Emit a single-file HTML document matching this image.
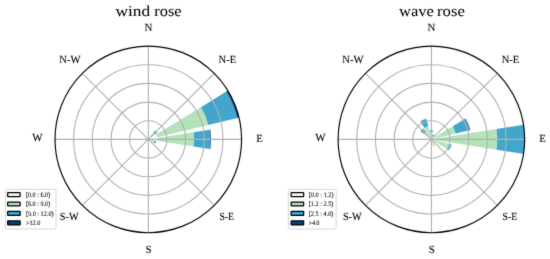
<!DOCTYPE html>
<html><head><meta charset="utf-8"><style>
html,body{margin:0;padding:0;background:#fff;}
svg{display:block;}
text{font-family:"Liberation Serif",serif;fill:#000;text-rendering:geometricPrecision;}
.title{font-size:15.2px;stroke:#000;stroke-width:0.04px;}
.lab{font-size:10.9px;stroke:#000;stroke-width:0.1px;}
.leg{font-size:6.7px;stroke:#000;stroke-width:0.08px;}
</style></head><body>
<svg width="550" height="259" viewBox="0 0 550 259">
<defs><filter id="bl" x="0" y="0" width="550" height="259" filterUnits="userSpaceOnUse" color-interpolation-filters="sRGB"><feConvolveMatrix order="3" kernelMatrix="0.0183 0.1353 0.0183 0.1353 1.0000 0.1353 0.0183 0.1353 0.0183" edgeMode="duplicate"/></filter></defs>
<g filter="url(#bl)">
<rect width="550" height="259" fill="#fff"/>
<path d="M157.34,137.23A9.30,9.30 0 0 0 156.23,134.54L148.30,139.40Z" fill="#f7fcf0"/>
<path d="M208.30,125.00A61.70,61.70 0 0 0 200.91,107.16L156.23,134.54A9.30,9.30 0 0 1 157.34,137.23Z" fill="#b4e2ba"/>
<path d="M237.27,118.04A91.50,91.50 0 0 0 226.32,91.59L200.91,107.16A61.70,61.70 0 0 1 208.30,125.00Z" fill="#42a6cc"/>
<path d="M239.02,117.62A93.30,93.30 0 0 0 227.85,90.65L226.32,91.59A91.50,91.50 0 0 1 237.27,118.04Z" fill="#084081"/>
<path d="M157.19,140.81A9.00,9.00 0 0 0 157.19,137.99L148.30,139.40Z" fill="#f7fcf0"/>
<path d="M193.63,146.58A45.90,45.90 0 0 0 193.63,132.22L157.19,137.99A9.00,9.00 0 0 1 157.19,140.81Z" fill="#b4e2ba"/>
<path d="M209.64,149.11A62.10,62.10 0 0 0 209.64,129.69L193.63,132.22A45.90,45.90 0 0 1 193.63,146.58Z" fill="#42a6cc"/>
<path d="M210.33,149.22A62.80,62.80 0 0 0 210.33,129.58L209.64,129.69A62.10,62.10 0 0 1 209.64,149.11Z" fill="#084081"/>
<path d="M152.35,136.46A5.00,5.00 0 0 0 151.24,135.35L148.30,139.40Z" fill="#f7fcf0"/>
<path d="M155.58,134.11A9.00,9.00 0 0 0 153.59,132.12L151.24,135.35A5.00,5.00 0 0 1 152.35,136.46Z" fill="#b4e2ba"/>
<path d="M157.20,132.93A11.00,11.00 0 0 0 154.77,130.50L153.59,132.12A9.00,9.00 0 0 1 155.58,134.11Z" fill="#42a6cc"/>
<path d="M150.86,140.97A3.00,3.00 0 0 0 151.22,140.10L148.30,139.40Z" fill="#f7fcf0"/>
<path d="M153.42,142.53A6.00,6.00 0 0 0 154.13,140.80L151.22,140.10A3.00,3.00 0 0 1 150.86,140.97Z" fill="#b4e2ba"/>
<path d="M155.12,143.58A8.00,8.00 0 0 0 156.08,141.27L154.13,140.80A6.00,6.00 0 0 1 153.42,142.53Z" fill="#42a6cc"/>
<g fill="none" stroke="#b0b0b0" stroke-width="1.1"><circle cx="148.3" cy="139.4" r="18.66"/><circle cx="148.3" cy="139.4" r="37.32"/><circle cx="148.3" cy="139.4" r="55.98"/><circle cx="148.3" cy="139.4" r="74.64"/><line x1="241.60" y1="139.40" x2="55.00" y2="139.40"/><line x1="214.27" y1="73.43" x2="82.33" y2="205.37"/><line x1="148.30" y1="46.10" x2="148.30" y2="232.70"/><line x1="82.33" y1="73.43" x2="214.27" y2="205.37"/></g>
<circle cx="148.3" cy="139.4" r="93.3" fill="none" stroke="#000" stroke-width="1.15"/>
<path d="M435.35,140.03A4.00,4.00 0 0 0 435.35,138.77L431.40,139.40Z" fill="#f7fcf0"/>
<path d="M496.39,149.69A65.80,65.80 0 0 0 496.39,129.11L435.35,138.77A4.00,4.00 0 0 1 435.35,140.03Z" fill="#b4e2ba"/>
<path d="M523.55,154.00A93.30,93.30 0 0 0 523.55,124.80L496.39,129.11A65.80,65.80 0 0 1 496.39,149.69Z" fill="#42a6cc"/>
<path d="M435.29,138.47A4.00,4.00 0 0 0 434.81,137.31L431.40,139.40Z" fill="#f7fcf0"/>
<path d="M455.71,133.56A25.00,25.00 0 0 0 452.72,126.34L434.81,137.31A4.00,4.00 0 0 1 435.29,138.47Z" fill="#b4e2ba"/>
<path d="M469.71,130.20A39.40,39.40 0 0 0 464.99,118.81L452.72,126.34A25.00,25.00 0 0 1 455.71,133.56Z" fill="#42a6cc"/>
<path d="M470.29,130.06A40.00,40.00 0 0 0 465.51,118.50L464.99,118.81A39.40,39.40 0 0 1 469.71,130.20Z" fill="#084081"/>
<path d="M430.70,136.48A3.00,3.00 0 0 0 429.83,136.84L431.40,139.40Z" fill="#f7fcf0"/>
<path d="M428.23,126.18A13.60,13.60 0 0 0 424.29,127.80L429.83,136.84A3.00,3.00 0 0 1 430.70,136.48Z" fill="#b4e2ba"/>
<path d="M426.45,118.79A21.20,21.20 0 0 0 420.32,121.32L424.29,127.80A13.60,13.60 0 0 1 428.23,126.18Z" fill="#42a6cc"/>
<path d="M429.64,136.97A3.00,3.00 0 0 0 428.97,137.64L431.40,139.40Z" fill="#f7fcf0"/>
<path d="M426.11,132.12A9.00,9.00 0 0 0 424.12,134.11L428.97,137.64A3.00,3.00 0 0 1 429.64,136.97Z" fill="#b4e2ba"/>
<path d="M423.46,128.48A13.50,13.50 0 0 0 420.48,131.46L424.12,134.11A9.00,9.00 0 0 1 426.11,132.12Z" fill="#42a6cc"/>
<path d="M431.87,136.44A3.00,3.00 0 0 0 430.93,136.44L431.40,139.40Z" fill="#f7fcf0"/>
<path d="M432.50,132.49A7.00,7.00 0 0 0 430.30,132.49L430.93,136.44A3.00,3.00 0 0 1 431.87,136.44Z" fill="#b4e2ba"/>
<path d="M432.90,129.92A9.60,9.60 0 0 0 429.90,129.92L430.30,132.49A7.00,7.00 0 0 1 432.50,132.49Z" fill="#42a6cc"/>
<path d="M432.44,137.69A2.00,2.00 0 0 0 431.87,137.46L431.40,139.40Z" fill="#f7fcf0"/>
<path d="M433.23,136.42A3.50,3.50 0 0 0 432.22,136.00L431.87,137.46A2.00,2.00 0 0 1 432.44,137.69Z" fill="#b4e2ba"/>
<path d="M434.17,134.88A5.30,5.30 0 0 0 432.64,134.25L432.22,136.00A3.50,3.50 0 0 1 433.23,136.42Z" fill="#42a6cc"/>
<path d="M431.87,141.34A2.00,2.00 0 0 0 432.44,141.11L431.40,139.40Z" fill="#f7fcf0"/>
<path d="M433.08,146.40A7.20,7.20 0 0 0 435.16,145.54L432.44,141.11A2.00,2.00 0 0 1 431.87,141.34Z" fill="#b4e2ba"/>
<path d="M433.96,140.97A3.00,3.00 0 0 0 434.32,140.10L431.40,139.40Z" fill="#f7fcf0"/>
<path d="M447.77,149.43A19.20,19.20 0 0 0 450.07,143.88L434.32,140.10A3.00,3.00 0 0 1 433.96,140.97Z" fill="#b4e2ba"/>
<path d="M449.13,150.27A20.80,20.80 0 0 0 451.63,144.26L450.07,143.88A19.20,19.20 0 0 1 447.77,149.43Z" fill="#42a6cc"/>
<g fill="none" stroke="#b0b0b0" stroke-width="1.1"><circle cx="431.4" cy="139.4" r="18.66"/><circle cx="431.4" cy="139.4" r="37.32"/><circle cx="431.4" cy="139.4" r="55.98"/><circle cx="431.4" cy="139.4" r="74.64"/><line x1="524.70" y1="139.40" x2="338.10" y2="139.40"/><line x1="497.37" y1="73.43" x2="365.43" y2="205.37"/><line x1="431.40" y1="46.10" x2="431.40" y2="232.70"/><line x1="365.43" y1="73.43" x2="497.37" y2="205.37"/></g>
<circle cx="431.4" cy="139.4" r="93.3" fill="none" stroke="#000" stroke-width="1.15"/>
<text id="LN" x="148.40" y="31.10" text-anchor="middle" class="lab">N</text>
<text id="LN-E" x="227.35" y="63.35" text-anchor="middle" class="lab" textLength="17.6" lengthAdjust="spacingAndGlyphs">N-E</text>
<text id="LE" x="259.55" y="141.90" text-anchor="middle" class="lab">E</text>
<text id="LS-E" x="226.70" y="220.20" text-anchor="middle" class="lab" textLength="14.5" lengthAdjust="spacingAndGlyphs">S-E</text>
<text id="LS" x="148.65" y="252.85" text-anchor="middle" class="lab">S</text>
<text id="LS-W" x="69.20" y="220.15" text-anchor="middle" class="lab" textLength="18.7" lengthAdjust="spacingAndGlyphs">S-W</text>
<text id="LW" x="37.35" y="141.30" text-anchor="middle" class="lab">W</text>
<text id="LN-W" x="69.80" y="63.25" text-anchor="middle" class="lab" textLength="21.3" lengthAdjust="spacingAndGlyphs">N-W</text>
<text id="RN" x="431.50" y="31.10" text-anchor="middle" class="lab">N</text>
<text id="RN-E" x="510.45" y="63.35" text-anchor="middle" class="lab" textLength="17.6" lengthAdjust="spacingAndGlyphs">N-E</text>
<text id="RE" x="542.65" y="141.90" text-anchor="middle" class="lab">E</text>
<text id="RS-E" x="509.80" y="220.20" text-anchor="middle" class="lab" textLength="14.5" lengthAdjust="spacingAndGlyphs">S-E</text>
<text id="RS" x="431.75" y="252.85" text-anchor="middle" class="lab">S</text>
<text id="RS-W" x="352.30" y="220.15" text-anchor="middle" class="lab" textLength="18.7" lengthAdjust="spacingAndGlyphs">S-W</text>
<text id="RW" x="320.45" y="141.30" text-anchor="middle" class="lab">W</text>
<text id="RN-W" x="352.90" y="63.25" text-anchor="middle" class="lab" textLength="21.3" lengthAdjust="spacingAndGlyphs">N-W</text>
<text id="Twind1" x="115.50" y="15.60" text-anchor="start" class="title" textLength="34.6" lengthAdjust="spacingAndGlyphs">wind</text>
<text id="Twind2" x="154.20" y="15.60" text-anchor="start" class="title" textLength="27.4" lengthAdjust="spacingAndGlyphs">rose</text>
<text id="Twave1" x="399.00" y="15.60" text-anchor="start" class="title" textLength="34.8" lengthAdjust="spacingAndGlyphs">wave</text>
<text id="Twave2" x="437.05" y="15.60" text-anchor="start" class="title" textLength="27.85" lengthAdjust="spacingAndGlyphs">rose</text>
<rect x="5.50" y="189.45" width="50.5" height="39.55" rx="1.3" fill="#fff" stroke="#cccccc" stroke-width="0.8"/>
<rect x="7.65" y="192.58" width="12.5" height="3.95" rx="0.4" fill="#f7fcf0" stroke="#000" stroke-width="1.25"/>
<text id="Lleg0" x="25.90" y="196.70" text-anchor="start" class="leg" textLength="24.3" lengthAdjust="spacingAndGlyphs">[0.0 : 6.0)</text>
<rect x="7.65" y="202.03" width="12.5" height="3.95" rx="0.4" fill="#b4e2ba" stroke="#000" stroke-width="1.25"/>
<text id="Lleg1" x="25.90" y="206.15" text-anchor="start" class="leg" textLength="24.3" lengthAdjust="spacingAndGlyphs">[6.0 : 9.0)</text>
<rect x="7.65" y="211.48" width="12.5" height="3.95" rx="0.4" fill="#42a6cc" stroke="#000" stroke-width="1.25"/>
<text id="Lleg2" x="25.90" y="215.60" text-anchor="start" class="leg" textLength="27.7" lengthAdjust="spacingAndGlyphs">[9.0 : 12.0)</text>
<rect x="7.65" y="220.93" width="12.5" height="3.95" rx="0.4" fill="#084081" stroke="#000" stroke-width="1.25"/>
<text id="Lleg3" x="25.90" y="225.05" text-anchor="start" class="leg" textLength="14.6" lengthAdjust="spacingAndGlyphs">&gt;12.0</text>
<rect x="288.40" y="189.45" width="47.7" height="39.55" rx="1.3" fill="#fff" stroke="#cccccc" stroke-width="0.8"/>
<rect x="291.15" y="192.58" width="12.5" height="3.95" rx="0.4" fill="#f7fcf0" stroke="#000" stroke-width="1.25"/>
<text id="Rleg0" x="308.80" y="196.70" text-anchor="start" class="leg" textLength="24.8" lengthAdjust="spacingAndGlyphs">[0.0 : 1.2)</text>
<rect x="291.15" y="202.03" width="12.5" height="3.95" rx="0.4" fill="#b4e2ba" stroke="#000" stroke-width="1.25"/>
<text id="Rleg1" x="308.80" y="206.15" text-anchor="start" class="leg" textLength="24.6" lengthAdjust="spacingAndGlyphs">[1.2 : 2.5)</text>
<rect x="291.15" y="211.48" width="12.5" height="3.95" rx="0.4" fill="#42a6cc" stroke="#000" stroke-width="1.25"/>
<text id="Rleg2" x="308.80" y="215.60" text-anchor="start" class="leg" textLength="24.6" lengthAdjust="spacingAndGlyphs">[2.5 : 4.0)</text>
<rect x="291.15" y="220.93" width="12.5" height="3.95" rx="0.4" fill="#084081" stroke="#000" stroke-width="1.25"/>
<text id="Rleg3" x="308.80" y="225.05" text-anchor="start" class="leg" textLength="10.8" lengthAdjust="spacingAndGlyphs">&gt;4.0</text>
</g>
</svg>
</body></html>
